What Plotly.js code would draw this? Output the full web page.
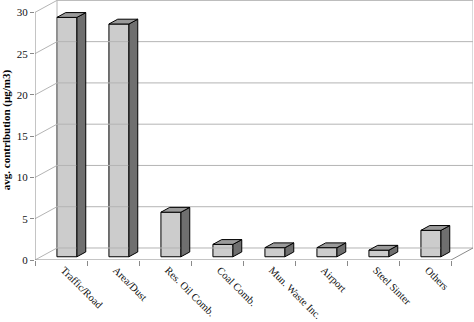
<!DOCTYPE html>
<html><head><meta charset="utf-8">
<script src="https://cdn.plot.ly/plotly-3.0.1.min.js"></script>
<style>html,body{margin:0;padding:0;background:#fff}#chart{width:474px;height:322px}</style>
</head><body><div id="chart"></div>
<script>
const categories = ["Traffic/Road","Area/Dust","Res. Oil Comb.","Coal Comb.","Mun. Waste Inc.","Airport","Steel Sinter","Others"];
const values = [29.0, 28.2, 5.4, 1.5, 1.1, 1.1, 0.8, 3.2];
const yTicks = [0, 5, 10, 15, 20, 25, 30];
const yTitle = "avg. contribution (µg/m3)";

// 3D projection settings (oblique offset of the back wall, in axis units)
const N = categories.length;
const DX = 22/52, DY = 12/8.25;
const F1 = 0.27, F2 = 0.67, W = 0.385;
const YMAX = 31.5;
const grid = '#b4b4b4', axc = '#8a8a8a';

const traces = [];
let gx = [], gy = [];
yTicks.forEach(v => {
  gx.push(0, DX, N + DX, null); gy.push(v, v + DY, v + DY, null);
});
const yTop = yTicks[yTicks.length-1];
gx.push(DX, DX, null, N + DX, N + DX, null);
gy.push(DY, yTop + DY, null, DY, yTop + DY, null);
traces.push({type:'scatter', mode:'lines', x:gx, y:gy, line:{color:grid, width:1}, hoverinfo:'skip', showlegend:false});
traces.push({type:'scatter', mode:'lines', x:[0, N, N + DX, null, 0, 0], y:[0, 0, DY, null, 0, yTop],
  line:{color:axc, width:1}, hoverinfo:'skip', showlegend:false});

let sx = [], sy = [], tx = [], ty = [];
values.forEach((v, i) => {
  const xl = i + 0.5 - W/2, xr = i + 0.5 + W/2;
  const a = F1*DX, b = F1*DY, c = F2*DX, d = F2*DY;
  sx.push(xr + a, xr + c, xr + c, xr + a, xr + a, null);
  sy.push(b, d, v + d, v + b, b, null);
  tx.push(xl + a, xr + a, xr + c, xl + c, xl + a, null);
  ty.push(v + b, v + b, v + d, v + d, v + b, null);
});
traces.push({type:'scatter', mode:'lines', x:sx, y:sy, fill:'toself', fillcolor:'#6f6f6f', line:{color:'#000', width:1}, hoverinfo:'skip', showlegend:false});
traces.push({type:'scatter', mode:'lines', x:tx, y:ty, fill:'toself', fillcolor:'#9a9a9a', line:{color:'#000', width:1}, hoverinfo:'skip', showlegend:false});
traces.push({type:'bar', x:categories.map((c,i)=>i + 0.5 + F1*DX), y:values, base:values.map(()=>F1*DY), width:W,
  marker:{color:'#cccccc', line:{color:'#000', width:1}}, showlegend:false, hoverinfo:'y'});
traces.push({type:'scatter', mode:'markers', x:[0, N], y:[0, 0], xaxis:'x2', marker:{opacity:0}, hoverinfo:'skip', showlegend:false});

const font = {family:'"Liberation Serif","Times New Roman",serif', size:11, color:'#111'};
const xfont = {family:'"Liberation Serif","Times New Roman",serif', size:10.5, color:'#111'};
const layout = {
  width:474, height:322, margin:{l:35, r:1, t:0, b:62},
  paper_bgcolor:'#fff', plot_bgcolor:'#fff', font:font,
  xaxis:{range:[0, N + DX], showgrid:false, zeroline:false, showline:false, tickmode:'array',
    tickvals:categories.map((c,i)=>i+0.5), ticktext:categories, tickangle:45, ticks:'', tickfont:xfont,
    ticklabelstandoff:1, ticklabelshift:3, automargin:false},
  xaxis2:{overlaying:'x', anchor:'y', side:'bottom', range:[0, N + DX], showgrid:false, zeroline:false, showline:false,
    tickmode:'array', tickvals:Array.from({length:N+1}, (_, k) => k), showticklabels:false,
    ticks:'outside', ticklen:5, tickcolor:axc},
  yaxis:{range:[0, YMAX], showgrid:false, zeroline:false, showline:false, tickmode:'array', tickvals:yTicks,
    ticks:'outside', ticklen:4, tickcolor:axc, tickfont:font,
    title:{text:yTitle, font:{family:'"Liberation Serif","Times New Roman",serif', size:11, color:'#000', weight:'bold'}, standoff:6}},
  barmode:'overlay'
};
Plotly.newPlot('chart', traces, layout, {staticPlot:true});
</script></body></html>
